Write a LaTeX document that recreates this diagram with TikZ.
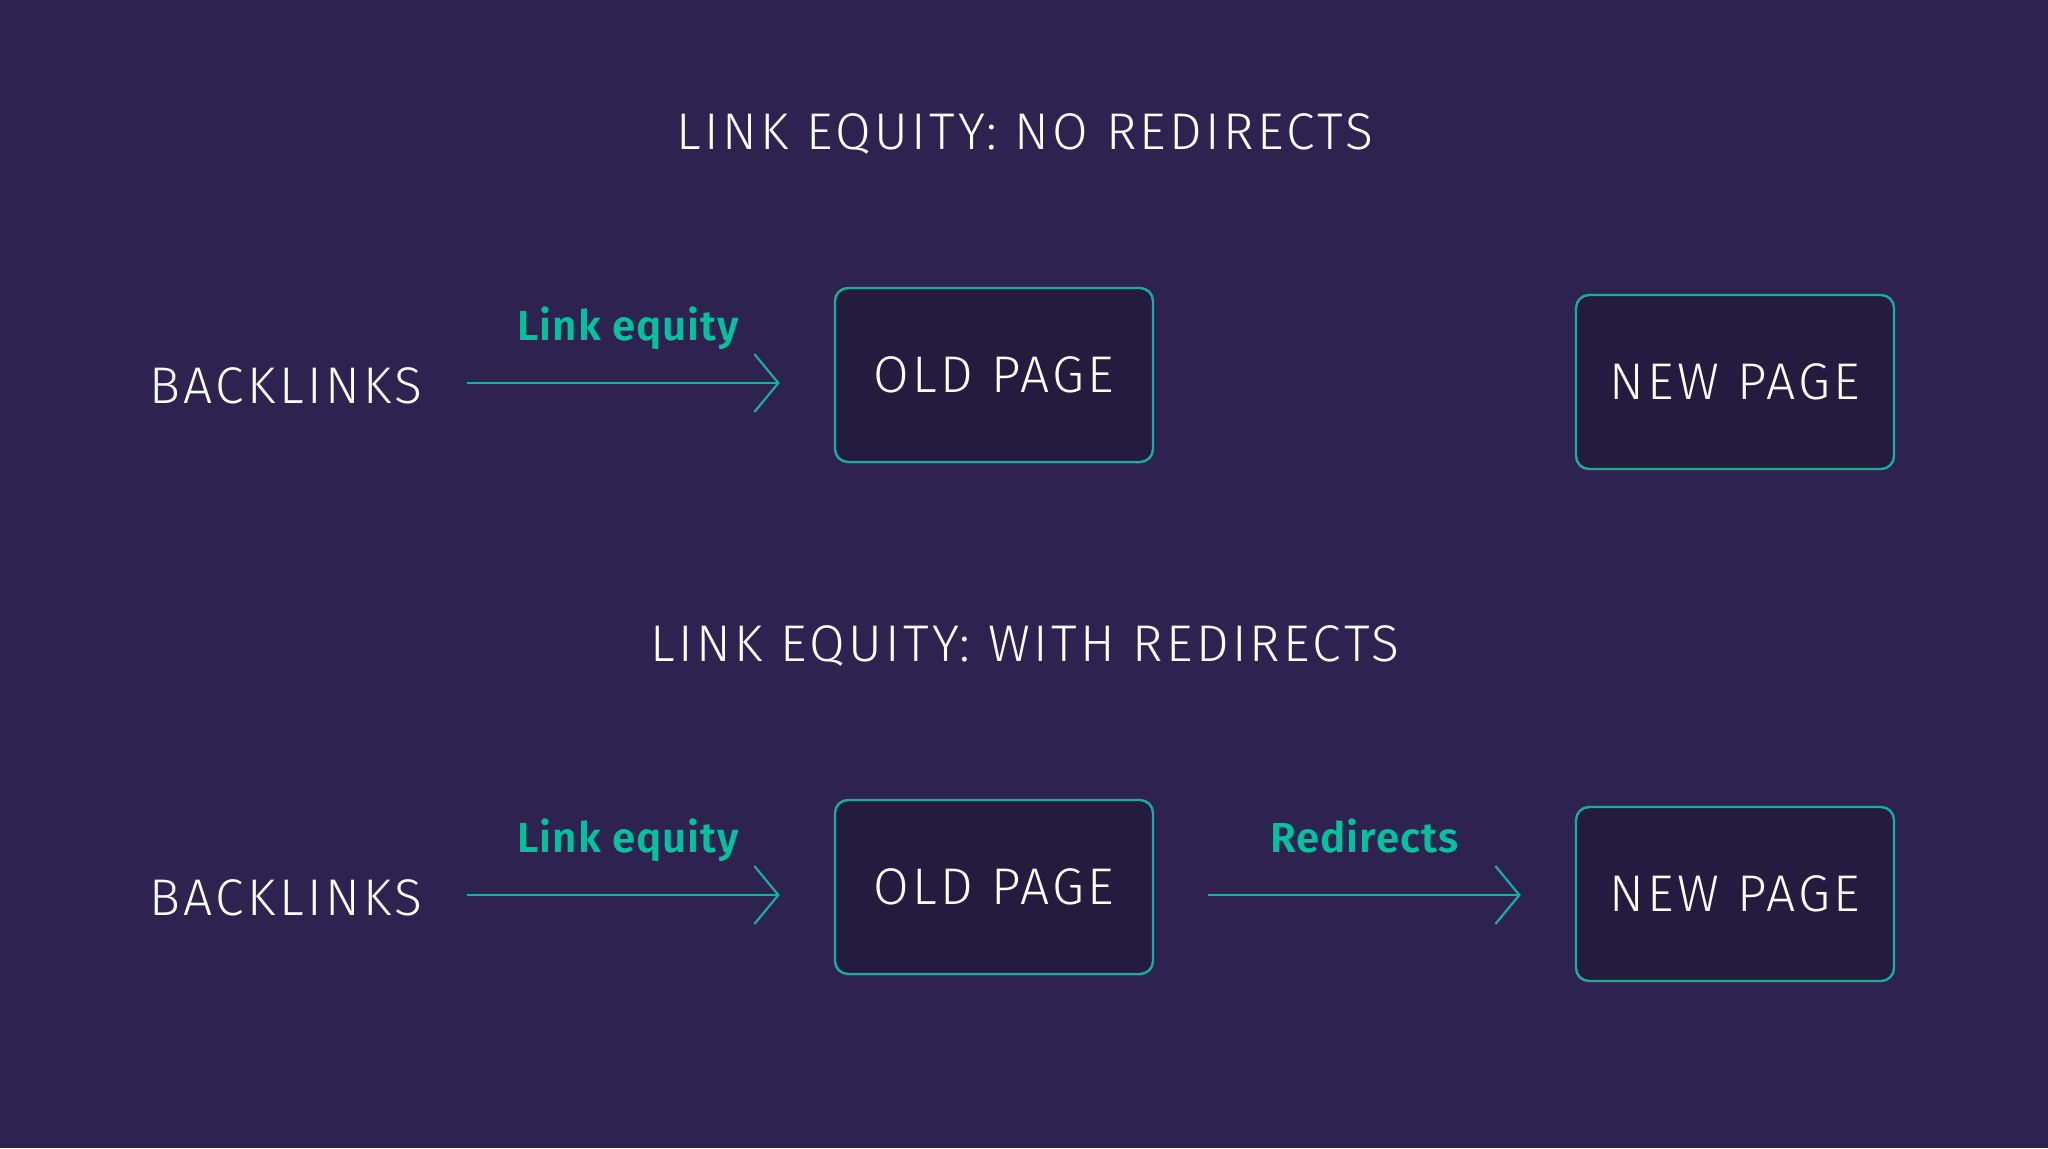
\documentclass[tikz,border=0pt]{standalone}
\usepackage{fontspec}
\setmainfont{Fira Sans Light}[BoldFont={Fira Sans SemiBold}]
\usetikzlibrary{arrows.meta,positioning}

\definecolor{bgpurple}{HTML}{2E2350}
\definecolor{boxfill}{HTML}{241C3E}
\definecolor{lineteal}{HTML}{1AAE9A}
\definecolor{textteal}{HTML}{00C29E}
\newcommand\capsfont{\fontsize{25.8}{30}\selectfont\addfontfeature{LetterSpace=6.5}}
\newcommand\equityfont{\fontsize{21}{24}\selectfont\bfseries\addfontfeature{LetterSpace=2.5}}

\begin{document}
\begin{tikzpicture}[x=0.5pt,y=-0.5pt,
  caps/.style = {text=white, font=\capsfont, inner sep=0pt},
  page/.style = {draw=lineteal, line width=1.2pt, fill=boxfill, rounded corners=6.5pt,
                 minimum width=159pt, minimum height=87pt, text=white, font=\capsfont},
  equity/.style = {text=textteal, font=\equityfont, inner sep=0pt, anchor=base, yshift=21.5pt},
  flow/.style = {draw=lineteal, line width=1.1pt,
                 -{Straight Barb[length=12pt,width=29pt,line width=1.1pt]}}]
        \fill[bgpurple] (0,0) rectangle (2048,1148);
        % no redirects
        \node[caps] (title1) at (1025,134) {LINK EQUITY: NO REDIRECTS};
        \node[caps] (back1) at (286,386) {BACKLINKS};
        \node[page] (old1) at (994,375) {OLD PAGE};
        \node[page] (new1) at (1735,382) {NEW PAGE};
        \draw[flow, shorten <=22.5pt, shorten >=27pt] ([yshift=1.5pt]back1.east) -- ([yshift=1.5pt]back1.east -| old1.west)
            node[midway, equity] {Link equity};
        % with redirects
        \node[caps] (title2) at (1025,646) {LINK EQUITY: WITH REDIRECTS};
        \node[caps] (back2) at (286,898) {BACKLINKS};
        \node[page] (old2) at (994,887) {OLD PAGE};
        \node[page] (new2) at (1735,894) {NEW PAGE};
        \draw[flow, shorten <=22.5pt, shorten >=27pt] ([yshift=1.5pt]back2.east) -- ([yshift=1.5pt]back2.east -| old2.west)
            node[midway, equity] {Link equity};
        \draw[flow, shorten <=27pt, shorten >=27pt] ([yshift=1.5pt]back2.east -| old2.east) -- ([yshift=1.5pt]back2.east -| new2.west)
            node[midway, equity] {Redirects};
\end{tikzpicture}
\end{document}
